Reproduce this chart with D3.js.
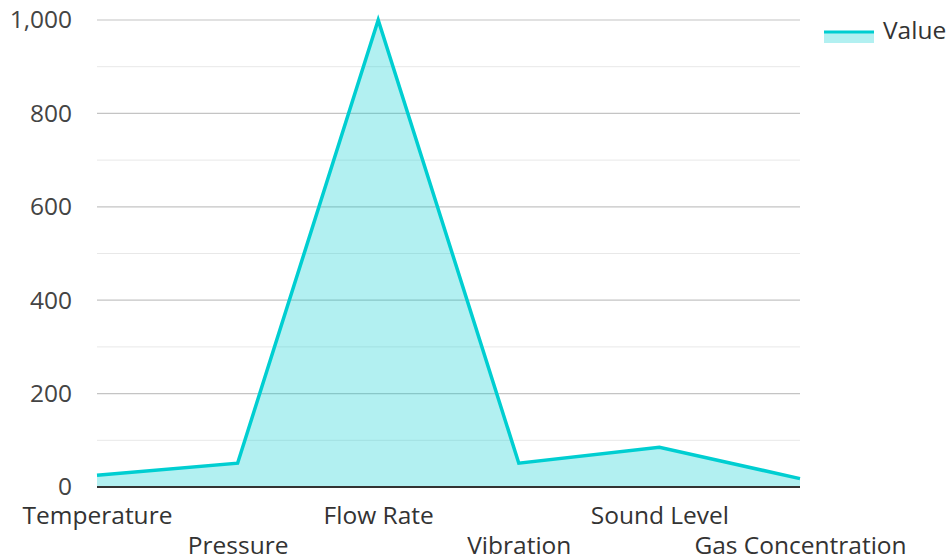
<!DOCTYPE html>
<html><head><meta charset="utf-8">
<script src="https://cdn.jsdelivr.net/npm/d3@7"></script>
<style>body{margin:0;background:#fff;} text{font-family:"Open Sans","Noto Sans",sans-serif;}</style>
</head><body>
<svg id="c" width="949" height="560"></svg>
<script>
const categories = ["Temperature","Pressure","Flow Rate","Vibration","Sound Level","Gas Concentration"];
const values = [25, 51, 1000, 51, 85, 18];
const yTicks = [0,200,400,600,800,1000];
const seriesName = "Value";

const svg = d3.select("#c");
const m = {l:97, r:149, t:20, b:73};
const W = 949, H = 560;
const x = d3.scalePoint().domain(categories).range([m.l, W-m.r]);
const y = d3.scaleLinear().domain([0,1000]).range([H-m.b, m.t]);
const color = "#00CED1";
const fs = 24.5;

svg.append("g").selectAll("line").data(d3.range(100,1000,200)).join("line")
  .attr("x1", m.l).attr("x2", W-m.r).attr("y1", d=>y(d)).attr("y2", d=>y(d))
  .attr("stroke", "#e8e8e8").attr("stroke-width", 1);
svg.append("g").selectAll("line").data(yTicks.filter(d=>d>0)).join("line")
  .attr("x1", m.l).attr("x2", W-m.r).attr("y1", d=>y(d)).attr("y2", d=>y(d))
  .attr("stroke", "#c4c4c4").attr("stroke-width", 1.2);

const data = categories.map((c,i)=>({c, v:values[i]}));
svg.append("path").datum(data)
  .attr("d", d3.area().x(d=>x(d.c)).y0(y(0)).y1(d=>y(d.v)))
  .attr("fill", color).attr("fill-opacity", 0.3);
svg.append("path").datum(data)
  .attr("d", d3.line().x(d=>x(d.c)).y(d=>y(d.v)))
  .attr("fill", "none").attr("stroke", color).attr("stroke-width", 3.5).attr("stroke-linejoin","miter");

svg.append("line").attr("x1", m.l).attr("x2", W-m.r).attr("y1", y(0)).attr("y2", y(0))
  .attr("stroke", "#333").attr("stroke-width", 2);

const ya = svg.append("g").attr("transform", `translate(${m.l-25},0)`)
  .call(d3.axisLeft(y).tickValues(yTicks).tickFormat(d3.format(",")).tickSize(0).tickPadding(0));
ya.select(".domain").remove();
ya.selectAll("text").attr("font-size", fs).attr("fill", "#444").attr("font-family","'Open Sans','Noto Sans',sans-serif");

const xa = svg.append("g").attr("transform", `translate(0,${y(0)})`)
  .call(d3.axisBottom(x).tickSize(0).tickPadding(0));
xa.select(".domain").remove();
xa.selectAll("text").attr("font-size", fs).attr("fill", "#333")
  .attr("font-family","'Open Sans','Noto Sans',sans-serif")
  .attr("dy", null).attr("dominant-baseline", "middle")
  .attr("y", (d,i)=> i%2===0 ? 30 : 60);

const lg = svg.append("g");
lg.append("rect").attr("x", 824).attr("y", 31).attr("width", 50).attr("height", 12).attr("fill", color).attr("fill-opacity", 0.3);
lg.append("line").attr("x1", 824).attr("x2", 874).attr("y1", 32).attr("y2", 32).attr("stroke", color).attr("stroke-width", 3);
lg.append("text").attr("x", 883).attr("y", 32).attr("dominant-baseline", "middle")
  .attr("font-size", fs).attr("fill", "#333").text(seriesName);
</script>
</body></html>
